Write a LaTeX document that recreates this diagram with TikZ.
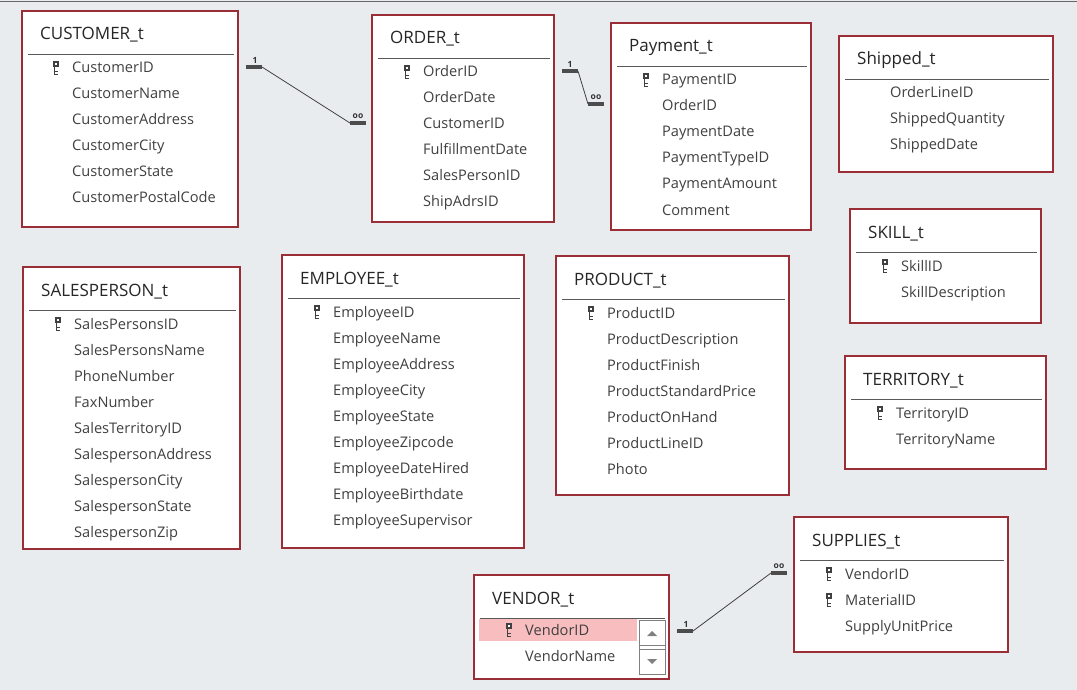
\documentclass[tikz,border=0pt]{standalone}
\usepackage{fontspec}
\setmainfont{Open Sans}
\begin{document}
\definecolor{bg}{HTML}{E9ECEF}
\definecolor{bd}{HTML}{9A2D36}
\definecolor{hl}{HTML}{F7BDBF}
\tikzset{
  tbox/.style={draw=bd,line width=1.6pt,fill=white},
  sep/.style={draw=gray!70!black,line width=0.6pt},
  ttl/.style={anchor=base west,font=\fontsize{17}{18}\selectfont,text=black!85,inner sep=0,yshift=-6pt},
  fld/.style={anchor=base west,font=\fontsize{14.6}{15}\selectfont,text=black!75,inner sep=0,yshift=-5pt},
  rel/.style={draw=gray!50!black,line width=0.8pt},
  relbar/.style={draw=black!70,line width=3.2pt},
  card/.style={font=\fontsize{8.5}{8.5}\bfseries\selectfont,inner sep=0,text=black!80}
}
\newcommand{\keyicon}[2]{%
  \fill[black!75] (#1-3,#2-7) rectangle (#1+3,#2-1);
  \fill[white] (#1-1,#2-5) rectangle (#1+1,#2-3);
  \draw[black!75,line width=0.8pt] (#1-1.5,#2-1) -- (#1-1.5,#2+7) (#1-1.5,#2+3)--(#1+1.5,#2+3) (#1-1.5,#2+6)--(#1+1.5,#2+6);}
% \tbl{id}{title}{x1}{y1}{x2}{y2}{textx}{firstrow}{fields}
\newcommand{\tbl}[9]{%
  \draw[tbox] (#3,#4) rectangle (#5,#6);
  \node[ttl] (#1) at (#3+18,#4+23) {#2};
  \draw[sep] (#3+6,#4+43) -- (#5-4,#4+43);
  \foreach \k/\f [count=\i from 0] in {#9} {
    \node[fld] at (#7,#8+26*\i) {\f};
    \ifnum\k=1 \keyicon{#7-16}{#8+26*\i}\fi
  }}
\begin{tikzpicture}[x=1pt,y=-1pt]
\fill[bg] (0,0) rectangle (1077,690);
\useasboundingbox (0,0) rectangle (1077,690);
\draw[black!60,line width=1pt] (0,2) -- (1077,2);

\tbl{cust}{CUSTOMER\_t}{22}{11}{238}{227}{72}{68}{1/CustomerID,0/CustomerName,0/CustomerAddress,0/CustomerCity,0/CustomerState,0/CustomerPostalCode}
\tbl{ord}{ORDER\_t}{372}{15}{554}{222}{423}{72}{1/OrderID,0/OrderDate,0/CustomerID,0/FulfillmentDate,0/SalesPersonID,0/ShipAdrsID}
\tbl{pay}{Payment\_t}{611}{23}{811}{230}{662}{80}{1/PaymentID,0/OrderID,0/PaymentDate,0/PaymentTypeID,0/PaymentAmount,0/Comment}
\tbl{ship}{Shipped\_t}{839}{36}{1053}{172}{890}{93}{0/OrderLineID,0/ShippedQuantity,0/ShippedDate}
\tbl{skill}{SKILL\_t}{850}{209}{1041}{323}{901}{266}{1/SkillID,0/SkillDescription}
\tbl{terr}{TERRITORY\_t}{845}{356}{1046}{469}{896}{413}{1/TerritoryID,0/TerritoryName}
\tbl{sales}{SALESPERSON\_t}{23}{267}{240}{549}{74}{324}{1/SalesPersonsID,0/SalesPersonsName,0/PhoneNumber,0/FaxNumber,0/SalesTerritoryID,0/SalespersonAddress,0/SalespersonCity,0/SalespersonState,0/SalespersonZip}
\tbl{emp}{EMPLOYEE\_t}{282}{255}{524}{548}{333}{312}{1/EmployeeID,0/EmployeeName,0/EmployeeAddress,0/EmployeeCity,0/EmployeeState,0/EmployeeZipcode,0/EmployeeDateHired,0/EmployeeBirthdate,0/EmployeeSupervisor}
\tbl{prod}{PRODUCT\_t}{556}{256}{789}{495}{607}{313}{1/ProductID,0/ProductDescription,0/ProductFinish,0/ProductStandardPrice,0/ProductOnHand,0/ProductLineID,0/Photo}
\tbl{supp}{SUPPLIES\_t}{794}{517}{1008}{652}{845}{574}{1/VendorID,1/MaterialID,0/SupplyUnitPrice}
% VENDOR with highlight and scrollbar
\draw[tbox] (474,575) rectangle (669,679);
\node[ttl] (vt) at (492,598) {VENDOR\_t};
\draw[sep] (480,618) -- (665,618);
\fill[hl] (479,619) rectangle (637,641);
\node[fld] at (525,630) {VendorID}; \keyicon{509}{630}
\node[fld] at (525,656) {VendorName};
\draw[gray,fill=white,line width=0.6pt] (639,620) rectangle (665,674);
\draw[gray,line width=0.6pt] (639,645)--(665,645) (639,649)--(665,649);
\fill[gray] (647,636)--(657,636)--(652,631)--cycle;
\fill[gray] (647,659)--(657,659)--(652,664)--cycle;

% relationships
\coordinate (c1a) at (246,67); \coordinate (c1b) at (262,67);
\coordinate (c2a) at (350,123); \coordinate (c2b) at (366,123);
\draw[relbar] (c1a)--(c1b); \draw[relbar] (c2a)--(c2b);
\draw[rel] (c1b)--(c2a);
\node[card] at (255,60) {1}; \node[card] at (358,116) {oo};

\coordinate (p1a) at (562,71); \coordinate (p1b) at (578,71);
\coordinate (p2a) at (588,104); \coordinate (p2b) at (604,104);
\draw[relbar] (p1a)--(p1b); \draw[relbar] (p2a)--(p2b);
\draw[rel] (p1b)--(p2a);
\node[card] at (570,64) {1}; \node[card] at (596,97) {oo};

\coordinate (v1a) at (677,631); \coordinate (v1b) at (693,631);
\coordinate (v2a) at (771,573); \coordinate (v2b) at (787,573);
\draw[relbar] (v1a)--(v1b); \draw[relbar] (v2a)--(v2b);
\draw[rel] (v1b)--(v2a);
\node[card] at (686,624) {1}; \node[card] at (779,566) {oo};
\end{tikzpicture}
\end{document}
